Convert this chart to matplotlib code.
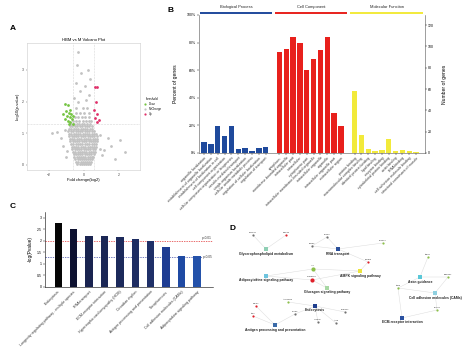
import numpy as np
import matplotlib.pyplot as plt

plt.rcParams['font.family'] = ['Liberation Sans', 'DejaVu Sans']

W, H = 474, 356


def box(l, t, r, b):
    # pixel rectangle -> figure fraction
    return [l / W, 1 - b / H, (r - l) / W, (b - t) / H]


# ---------------- A: volcano plot data (fold change log2, -log10 p) ----------------
# dense cloud, one row of fold changes per -log10(p) level
gray_rows = {
    0.02: [-0.35, -0.22, -0.10, 0.02, 0.14, 0.26, 0.38],
    0.10: [-0.42, -0.30, -0.17, -0.05, 0.08, 0.20, 0.32, 0.44],
    0.18: [-0.46, -0.34, -0.22, -0.10, 0.02, 0.14, 0.26, 0.38, 0.50],
    0.26: [-0.52, -0.39, -0.27, -0.14, -0.02, 0.10, 0.23, 0.35, 0.47, 0.56],
    0.34: [-0.56, -0.44, -0.31, -0.18, -0.06, 0.07, 0.19, 0.31, 0.44, 0.58],
    0.42: [-0.60, -0.47, -0.34, -0.21, -0.08, 0.05, 0.17, 0.30, 0.42, 0.55, 0.64],
    0.50: [-0.64, -0.51, -0.38, -0.25, -0.12, 0.01, 0.14, 0.27, 0.40, 0.52, 0.65],
    0.58: [-0.68, -0.55, -0.42, -0.29, -0.16, -0.03, 0.10, 0.23, 0.36, 0.49, 0.62, 0.70],
    0.66: [-0.72, -0.58, -0.45, -0.32, -0.19, -0.06, 0.07, 0.20, 0.33, 0.46, 0.59, 0.72],
    0.74: [-0.75, -0.62, -0.49, -0.36, -0.23, -0.10, 0.03, 0.16, 0.29, 0.42, 0.55, 0.68, 0.78],
    0.82: [-0.78, -0.65, -0.52, -0.39, -0.26, -0.13, 0.00, 0.13, 0.26, 0.39, 0.52, 0.65, 0.80],
    0.90: [-0.82, -0.68, -0.55, -0.42, -0.29, -0.16, -0.03, 0.10, 0.23, 0.36, 0.49, 0.62, 0.76],
    0.98: [-0.85, -0.70, -0.57, -0.44, -0.31, -0.18, -0.05, 0.08, 0.21, 0.34, 0.47, 0.60, 0.74],
    1.06: [-0.86, -0.72, -0.58, -0.45, -0.32, -0.19, -0.06, 0.07, 0.20, 0.33, 0.46, 0.60],
    1.14: [-0.84, -0.70, -0.56, -0.43, -0.30, -0.17, -0.04, 0.09, 0.22, 0.35, 0.50],
    1.22: [-0.80, -0.64, -0.50, -0.36, -0.22, -0.08, 0.06, 0.20, 0.34, 0.46],
    1.30: [-0.70, -0.55, -0.40, -0.25, -0.10, 0.05, 0.20, 0.35],
    1.40: [-0.60, -0.42, -0.25, -0.05, 0.12, 0.30, 0.45],
    1.52: [-0.50, -0.30, -0.10, 0.10, 0.30],
    1.65: [-0.45, -0.20, 0.05, 0.30],
    1.80: [-0.42, -0.05, 0.22],
}
# scattered genes outside the cloud
gray_sparse = [
    (-0.30, 2.00), (0.15, 2.05), (-0.55, 2.10), (0.30, 2.20), (-0.20, 2.35), (0.10, 2.50),
    (-0.45, 2.60), (0.35, 2.70), (-0.15, 2.90), (0.25, 3.00), (-0.35, 3.15), (-0.30, 3.57),
    (-1.80, 1.00), (-1.50, 1.05), (2.10, 0.78), (2.40, 0.40), (1.60, 0.60), (1.20, 0.47),
    (-1.20, 0.60), (-0.95, 0.45), (0.95, 0.50), (1.40, 0.85), (-1.30, 0.85), (1.05, 0.30),
    (-1.00, 0.25), (1.80, 0.20), (0.95, 0.95), (-1.05, 1.10),
]
down_pts = [
    (-1.06, 1.92), (-0.77, 1.73), (-0.90, 1.88), (-1.00, 1.70), (-0.85, 1.65), (-0.70, 1.60),
    (-0.95, 1.55), (-0.80, 1.50), (-0.65, 1.45), (-1.05, 1.45), (-0.90, 1.40), (-0.75, 1.35),
    (-0.62, 1.30), (-0.85, 1.28), (-1.15, 1.62), (-0.60, 1.55),
]
up_pts = [
    (0.65, 2.45), (0.75, 2.47), (0.70, 1.98), (0.62, 1.75), (0.80, 1.60),
    (0.66, 1.48), (0.77, 1.36), (0.90, 1.42),
]

# ---------------- B: GO classification ----------------
bp_terms = ['organelle localization', 'establishment of organelle localization',
            'establishment of localization in cell', 'cell component organization',
            'cellular component organization or biogenesis', 'vesicle-mediated transport',
            'single-organism localization', 'cellular amide metabolic process',
            'regulation of cellular localization', 'regulation of transport']
bp_pct = [7.8, 6.8, 19.5, 12.4, 19.5, 2.9, 3.9, 1.5, 3.9, 4.6]
cc_terms = ['cytoplasm', 'membrane-bounded organelle', 'intracellular part', 'intracellular',
            'cytoplasmic part', 'intracellular membrane-bounded organelle', 'intracellular organelle',
            'organelle', 'intracellular organelle part', 'extracellular region']
cc_pct = [72.9, 75.1, 83.7, 79.8, 60.2, 68.0, 74.4, 83.7, 28.8, 19.5]
mf_terms = ['protein binding', 'macromolecular complex binding', 'identical protein binding',
            'lipid binding', 'enzyme binding', 'cytoskeletal protein binding', 'actin binding',
            'RNA binding', 'cell adhesion molecule binding', 'structural constituent of muscle']
mf_pct = [44.6, 13.2, 2.9, 1.5, 2.0, 10.2, 1.5, 2.0, 1.5, 0.6]
go_groups = ['Biological Process', 'Cell Component', 'Molecular Function']

# ---------------- C: KEGG enrichment ----------------
kegg_terms = ['Endocytosis', 'Longevity regulating pathway - multiple species', 'RNA transport',
              'ECM-receptor interaction', 'Hypertrophic cardiomyopathy (HCM)', 'Circadian rhythm',
              'Antigen processing and presentation', 'Toxoplasmosis',
              'Cell adhesion molecules (CAMs)', 'Adipocytokine signaling pathway']
kegg_logp = [2.75, 2.50, 2.19, 2.19, 2.18, 2.09, 1.98, 1.74, 1.35, 1.34]
kegg_colors = ['#050505', '#0d1130', '#1a2450', '#1b2755', '#1c2a5b', '#1e2d62',
               '#1f3068', '#1e3c92', '#1f4aa3', '#2452aa']

# ---------------- D: pathway-gene network ----------------
pathways = ['Glycerophospholipid metabolism', 'RNA transport', 'AMPK signaling pathway',
            'Adipocytokine signaling pathway', 'Glucagon signaling pathway', 'Endocytosis',
            'Antigen processing and presentation', 'Axon guidance',
            'Cell adhesion molecules (CAMs)', 'ECM-receptor interaction']
pathway_colors = ['#8fcfb4', '#2a4f9a', '#ece43c', '#6ec4de', '#a8d8a4', '#1f3f8f',
                  '#3a6aa8', '#5bc8d8', '#8fd0e0', '#2a50a0']
genes = ['Gpcpd1', 'Pla2g6', 'Nup93', 'Eif4e2', 'Nup62cl', 'Prkab2', 'Irs2', 'Ppargc1a',
         'Arhgef12', 'Hspa2', 'Vps37b', 'Arf6', 'Chmp4c', 'H2-Q7', 'Ctss',
         'Ntng1', 'Sema3c', 'Itga8', 'Lamc3']
gene_state = ['gray', 'up', 'gray', 'gray', 'down', 'up', 'down', 'up',
              'down', 'gray', 'gray', 'gray', 'gray', 'up', 'up',
              'down', 'down', 'down', 'down']
edges = [
    ('Glycerophospholipid metabolism', 'Gpcpd1'), ('Glycerophospholipid metabolism', 'Pla2g6'),
    ('RNA transport', 'Nup93'), ('RNA transport', 'Eif4e2'), ('Nup93', 'Eif4e2'),
    ('RNA transport', 'Nup62cl'), ('RNA transport', 'Prkab2'),
    ('AMPK signaling pathway', 'Prkab2'), ('AMPK signaling pathway', 'Irs2'),
    ('AMPK signaling pathway', 'Ppargc1a'),
    ('Adipocytokine signaling pathway', 'Irs2'), ('Adipocytokine signaling pathway', 'Ppargc1a'),
    ('Glucagon signaling pathway', 'Irs2'), ('Glucagon signaling pathway', 'Ppargc1a'),
    ('Endocytosis', 'Arhgef12'), ('Endocytosis', 'Hspa2'), ('Endocytosis', 'Vps37b'),
    ('Endocytosis', 'Arf6'), ('Endocytosis', 'Chmp4c'),
    ('Antigen processing and presentation', 'H2-Q7'), ('Antigen processing and presentation', 'Ctss'),
    ('Antigen processing and presentation', 'Hspa2'),
    ('Axon guidance', 'Ntng1'), ('Axon guidance', 'Sema3c'), ('Axon guidance', 'Itga8'),
    ('Cell adhesion molecules (CAMs)', 'Itga8'), ('Cell adhesion molecules (CAMs)', 'Sema3c'),
    ('Cell adhesion molecules (CAMs)', 'Lamc3'),
    ('ECM-receptor interaction', 'Itga8'), ('ECM-receptor interaction', 'Lamc3'),
]

# network layout (pixel positions of the drawing)
layout = {
    'Glycerophospholipid metabolism': (266, 249), 'RNA transport': (338, 249),
    'AMPK signaling pathway': (360, 271), 'Adipocytokine signaling pathway': (266, 276),
    'Glucagon signaling pathway': (327, 288), 'Endocytosis': (315, 306),
    'Antigen processing and presentation': (275, 325), 'Axon guidance': (420, 277),
    'Cell adhesion molecules (CAMs)': (435, 293), 'ECM-receptor interaction': (402, 318),
    'Gpcpd1': (253, 235), 'Pla2g6': (286, 235), 'Nup93': (327, 237), 'Eif4e2': (312, 246),
    'Nup62cl': (383, 243), 'Prkab2': (368, 262), 'Irs2': (313, 269), 'Ppargc1a': (312, 280),
    'Arhgef12': (288, 302), 'Hspa2': (295, 314), 'Vps37b': (318, 322), 'Arf6': (336, 323),
    'Chmp4c': (345, 312), 'H2-Q7': (256, 306), 'Ctss': (253, 316),
    'Ntng1': (428, 257), 'Sema3c': (448, 277), 'Itga8': (398, 288), 'Lamc3': (437, 310),
}

fig = plt.figure(figsize=(W / 100, H / 100), dpi=100)

# ===== Panel A =====
axa = fig.add_axes(box(27, 43, 140, 170))
gx = [x for y, row in gray_rows.items() for x in row] + [p[0] for p in gray_sparse]
gy = [y for y, row in gray_rows.items() for x in row] + [p[1] for p in gray_sparse]
dx, dy = zip(*down_pts)
ux, uy = zip(*up_pts)
axa.scatter(gx, gy, s=4, color='#c2c2c2', linewidths=0, label='NoChange', zorder=2)
axa.scatter(dx, dy, s=4, color='#74c442', linewidths=0, label='Down', zorder=3)
axa.scatter(ux, uy, s=4, color='#e0306a', linewidths=0, label='Up', zorder=3)
for v in (-0.585, 0.585):
    axa.axvline(v, color='#d6d6d6', lw=0.4, ls='--', zorder=1)
axa.axhline(1.3, color='#d6d6d6', lw=0.4, ls='--', zorder=1)
axa.set_xlim(-3.23, 3.23)
axa.set_ylim(-0.16, 3.85)
axa.set_xticks([-2, 0, 2])
axa.set_yticks([0, 1, 2, 3])
axa.tick_params(labelsize=2.5, length=1, width=0.3, pad=1, colors='#444444')
for s in axa.spines.values():
    s.set_color('#cccccc')
    s.set_linewidth(0.4)
axa.set_title('HBM vs M Volcano Plot', fontsize=3, pad=1.5)
axa.set_xlabel('Fold change(log2)', fontsize=3, labelpad=1)
axa.set_ylabel('-log10(p-value)', fontsize=3, labelpad=1.5)
handles = axa.get_legend_handles_labels()
order = [1, 0, 2]
axa.legend([handles[0][i] for i in order], [handles[1][i] for i in order],
           title='threshold', fontsize=2, title_fontsize=2.2, frameon=False,
           loc='center left', bbox_to_anchor=(1.01, 0.5), markerscale=0.8,
           handletextpad=0.2, labelspacing=0.3, borderaxespad=0)

# ===== Panel B =====
axb = fig.add_axes(box(199, 15, 425, 153))
pos_groups = [np.arange(0, 10), np.arange(11, 21), np.arange(22, 32)]
vals = [bp_pct, cc_pct, mf_pct]
cols = ['#1f4a9c', '#e8201c', '#f2ea3a']
for p, v, c, name in zip(pos_groups, vals, cols, go_groups):
    axb.bar(p, v, width=0.78, color=c, zorder=2)
    axb.plot([p[0] - 0.6, p[-1] + 0.95], [101.5, 101.5], color=c, lw=1.4,
             clip_on=False, solid_capstyle='butt')
    axb.text((p[0] + p[-1]) / 2 + 0.2, 104.3, name, fontsize=2.9, ha='center',
             va='bottom', color='#222222')
axb.set_xlim(-0.75, 32.3)
axb.set_ylim(0, 100)
axb.set_yticks(np.arange(0, 101, 20))
axb.set_yticklabels([f'{t}%' for t in range(0, 101, 20)])
allpos = np.concatenate(pos_groups)
axb.set_xticks(allpos)
axb.set_xticklabels(bp_terms + cc_terms + mf_terms, rotation=45, ha='right',
                    rotation_mode='anchor', fontsize=2.6, color='#333333')
axb.tick_params(axis='y', labelsize=2.5, length=1.2, width=0.3, pad=1)
axb.tick_params(axis='x', length=1.2, width=0.3, pad=1)
axb.spines['top'].set_visible(False)
axb.spines['right'].set_visible(False)
for s in ('left', 'bottom'):
    axb.spines[s].set_linewidth(0.4)
    axb.spines[s].set_color('#555555')
axb.set_ylabel('Percent of genes', fontsize=3.6, labelpad=6)
axb2 = axb.twinx()
axb2.set_ylim(0, 129.4)
axb2.set_yticks(np.arange(0, 121, 20))
axb2.tick_params(axis='y', labelsize=2.5, length=1.2, width=0.3, pad=1)
for s in ('top', 'left', 'bottom'):
    axb2.spines[s].set_visible(False)
axb2.spines['right'].set_linewidth(0.4)
axb2.spines['right'].set_color('#555555')
axb2.set_ylabel('Number of genes', fontsize=3.6, labelpad=6)

# ===== Panel C =====
axc = fig.add_axes(box(45, 212, 213, 287))
xc = np.arange(len(kegg_terms))
axc.bar(xc, kegg_logp, width=0.48, color=kegg_colors, zorder=2)
axc.axhline(2.0, color='#e03030', lw=0.5, ls=(0, (2, 1.5)), zorder=1)
axc.axhline(1.3, color='#3c4aa8', lw=0.5, ls=(0, (2, 1.5)), zorder=1)
axc.text(9.95, 2.04, 'p=0.01', fontsize=2.3, ha='right', va='bottom', color='#333333')
axc.text(10.0, 1.3, 'p=0.05', fontsize=2.3, ha='right', va='center', color='#333333',
         bbox=dict(facecolor='white', edgecolor='none', pad=0.3))
axc.set_xlim(-0.86, 10.04)
axc.set_ylim(0, 3.24)
axc.set_yticks(np.arange(0, 3.01, 0.5))
axc.set_yticklabels(['0', '0.5', '1', '1.5', '2', '2.5', '3'])
axc.set_xticks(xc)
axc.set_xticklabels(kegg_terms, rotation=45, ha='right', rotation_mode='anchor',
                    fontsize=2.6, color='#333333')
axc.tick_params(axis='y', labelsize=2.5, length=1.2, width=0.3, pad=1)
axc.tick_params(axis='x', length=0, pad=2)
axc.spines['top'].set_visible(False)
axc.spines['right'].set_visible(False)
for s in ('left', 'bottom'):
    axc.spines[s].set_linewidth(0.4)
axc.set_ylabel('-log(Pvalue)', fontsize=3.4, labelpad=3)

# ===== Panel D =====
axd = fig.add_axes([0, 0, 1, 1], zorder=-1)
axd.set_xlim(0, W)
axd.set_ylim(H, 0)
axd.axis('off')
axd.patch.set_alpha(0)
for a, b in edges:
    (x1, y1), (x2, y2) = layout[a], layout[b]
    axd.plot([x1, x2], [y1, y2], color='#dcdcdc', lw=0.35, zorder=1)
state_col = {'up': '#e0202a', 'down': '#8cc04a', 'gray': '#707070'}
for g, st in zip(genes, gene_state):
    x, y = layout[g]
    big = g in ('Irs2', 'Ppargc1a')
    axd.scatter([x], [y], s=9 if big else 2.5, color=state_col[st], marker='o',
                linewidths=0, zorder=3)
    axd.text(x, y - (2.8 if big else 1.8), g, fontsize=1.6, ha='center', va='bottom',
             color='#333333')
for pth, c in zip(pathways, pathway_colors):
    x, y = layout[pth]
    axd.scatter([x], [y], s=8, color=c, marker='s', linewidths=0, zorder=3)
    axd.text(x, y + 2.5, pth, fontsize=2.4, fontweight='bold', ha='center', va='top',
             color='#222222')

# panel letters
for lab, px, py in [('A', 13, 29), ('B', 170, 10), ('C', 13, 206), ('D', 233, 228)]:
    fig.text(px / W, 1 - py / H, lab, fontsize=6, fontweight='bold', ha='center',
             va='center')

fig.savefig('out.png', dpi=100)
